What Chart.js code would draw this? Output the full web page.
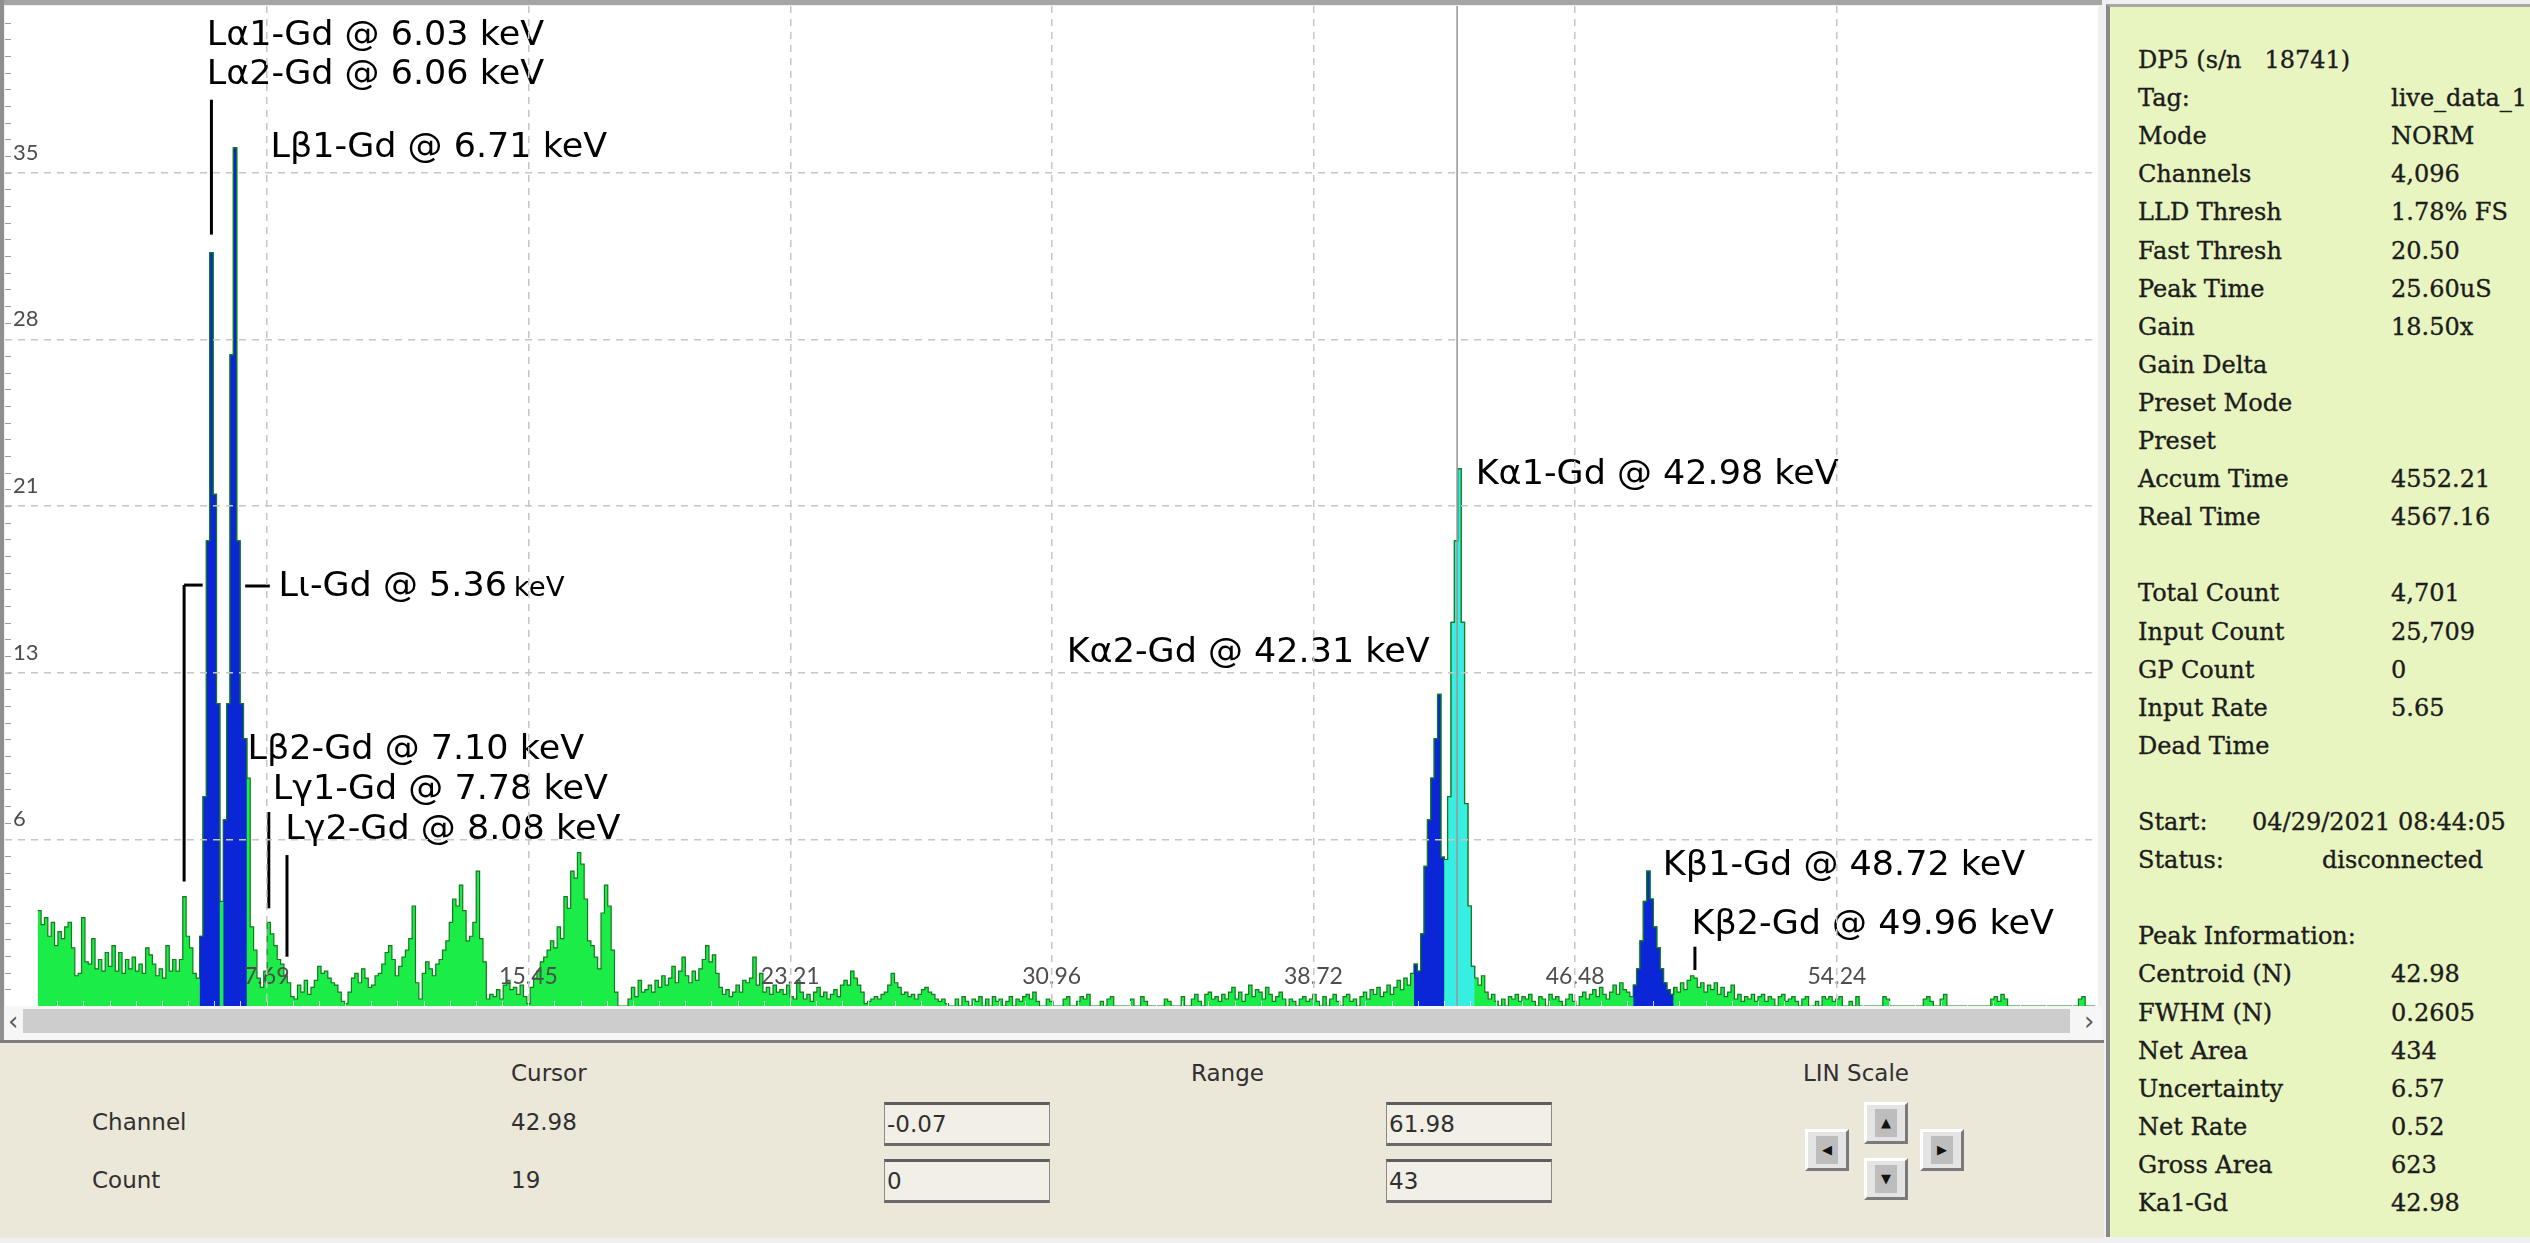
<!DOCTYPE html>
<html lang="en">
  <head>
    <meta charset="UTF-8" />
    <title>DP5 spectrum - Gd</title>
    <script src="https://cdn.jsdelivr.net/npm/chart.js@4.4.1/dist/chart.umd.min.js"></script>
    <style>
      body {
        margin: 0;
        width: 2530px;
        height: 1243px;
        background: #f0f0f0;
        position: relative;
        overflow: hidden;
        font-family: "DejaVu Sans", sans-serif;
      }
      #plotTop {
        position: absolute;
        left: 0;
        top: 0;
        width: 2102px;
        height: 5px;
        background: #a5a5a5;
      }
      #plotLeft {
        position: absolute;
        left: 0;
        top: 0;
        width: 4px;
        height: 1040px;
        background: #8f8f8f;
      }
      #plotBox {
        position: absolute;
        left: 5px;
        top: 6px;
        width: 2093px;
        height: 1000px;
        background: #fff;
      }
      #scrollStrip {
        position: absolute;
        left: 4px;
        top: 1006px;
        width: 2098px;
        height: 34px;
        background: #f6f6f6;
      }
      #scrollThumb {
        position: absolute;
        left: 19px;
        top: 3px;
        width: 2047px;
        height: 24px;
        background: #cdcdcd;
      }
      .arrow {
        position: absolute;
        top: 0;
        font-size: 26px;
        color: #5a5a5a;
      }
      #controls {
        position: absolute;
        left: 0;
        top: 1040px;
        width: 2104px;
        height: 198px;
        background: #ebe8da;
        border-top: 3px solid #7e7e7e;
        box-sizing: border-box;
        color: #303030;
        font-size: 23px;
      }
      #controls .lbl {
        position: absolute;
        line-height: 30px;
        white-space: nowrap;
      }
      #controls .box {
        position: absolute;
        width: 166px;
        height: 44px;
        box-sizing: border-box;
        background: #f1efe6;
        border: 1px solid #8a8a8a;
        border-top: 3px solid #5e5e5e;
        border-bottom: 3px solid #6a6a6a;
        line-height: 38px;
        padding-left: 2px;
      }
      #controls .btn {
        position: absolute;
        width: 44px;
        height: 42px;
        box-sizing: border-box;
        background: #e4e4e4;
        border: 3px solid;
        border-color: #ffffff #7a7a7a #7a7a7a #ffffff;
        text-align: center;
        font-size: 13px;
        line-height: 36px;
        color: #111;
      }
      #controls .btn span {
        display: inline-block;
        background: #bdbdbd;
        width: 22px;
        line-height: 28px;
        margin-top: 4px;
      }
      #info {
        position: absolute;
        left: 2106px;
        top: 4px;
        width: 424px;
        height: 1233px;
        background: #e9f5c1;
        border-left: 4px solid #8a8a8a;
        border-top: 3px solid #a8a8a8;
        box-sizing: border-box;
        font-family: "DejaVu Serif", serif;
        font-size: 24px;
        color: #1c1c1c;
        -webkit-text-stroke: 0.35px #1c1c1c;
      }
      #info .row {
        position: absolute;
        left: 0;
        width: 420px;
        height: 38px;
        line-height: 38px;
        white-space: nowrap;
      }
      #info .row span {
        position: absolute;
      }
    </style>
  </head>
  <body>
    <div id="plotTop"></div>
    <div id="plotLeft"></div>
    <div id="plotBox">
      <canvas id="spectrum" width="2093" height="1000"></canvas>
    </div>
    <div id="scrollStrip">
      <span class="arrow" style="left: 4px">&lsaquo;</span>
      <div id="scrollThumb"></div>
      <span class="arrow" style="left: 2080px">&rsaquo;</span>
    </div>

    <div id="controls">
      <div class="lbl" style="left: 511px; top: 15px">Cursor</div>
      <div class="lbl" style="left: 1191px; top: 15px">Range</div>
      <div class="lbl" style="left: 1803px; top: 15px">LIN Scale</div>
      <div class="lbl" style="left: 92px; top: 64px">Channel</div>
      <div class="lbl" style="left: 511px; top: 64px">42.98</div>
      <div class="lbl" style="left: 92px; top: 122px">Count</div>
      <div class="lbl" style="left: 511px; top: 122px">19</div>
      <div class="box" style="left: 884px; top: 59px">-0.07</div>
      <div class="box" style="left: 1386px; top: 59px">61.98</div>
      <div class="box" style="left: 884px; top: 116px">0</div>
      <div class="box" style="left: 1386px; top: 116px">43</div>
      <div class="btn" style="left: 1864px; top: 59px"><span>&#9650;</span></div>
      <div class="btn" style="left: 1805px; top: 86px"><span>&#9664;</span></div>
      <div class="btn" style="left: 1920px; top: 86px"><span>&#9654;</span></div>
      <div class="btn" style="left: 1864px; top: 115px"><span>&#9660;</span></div>
    </div>

    <div id="info"></div>

    <script>
      // spectrum: counts per 0.1 keV bin, one row per keV (0.0 .. 61.9)
      const energyStep = 0.1;
      const counts = [
        null, null, null, null, null, null, null, null, null, 4.1,
        3.5, 3.8, 3.0, 3.6, 2.6, 3.2, 2.9, 3.4, 3.6, 2.5,
        1.3, 1.4, 3.8, 1.9, 1.8, 2.9, 1.6, 2.0, 1.5, 2.3,
        1.7, 2.6, 1.5, 2.3, 1.4, 2.0, 1.6, 2.1, 1.5, 1.8,
        1.4, 2.5, 2.2, 1.8, 1.3, 1.6, 1.2, 2.6, 1.5, 2.0,
        1.5, 2.0, 4.7, 3.0, 2.5, 1.4, 1.2, 3.0, 9.0, 20.0,
        32.4, 22.0, 13.0, 4.5, 8.0, 13.0, 28.0, 36.9, 20.0, 13.0,
        11.5, 9.8, 3.4, 2.4, 1.2, 0.8, 1.5, 3.6, 3.1, 2.6,
        2.0, 1.8, 1.3, 1.0, 0.4, 0.3, 0.9, 0.6, 1.1, 0.5,
        0.8, 1.1, 1.7, 1.4, 1.5, 1.2, 1.0, 0.9, 0.6, 0.2,
        0.1, 0.6, 1.2, 1.4, 1.0, 1.6, 1.2, 0.8, 0.9, 1.3,
        1.4, 1.8, 2.3, 2.6, 2.0, 1.3, 1.7, 2.1, 2.4, 2.9,
        4.3, 1.0, 0.3, 1.4, 1.9, 1.6, 1.3, 1.8, 2.0, 2.4,
        2.8, 3.6, 4.6, 4.3, 5.2, 4.1, 2.8, 3.0, 3.6, 5.8,
        2.9, 1.9, 0.3, 0.5, 0.4, 0.7, 0.3, 0.9, 1.1, 0.7,
        0.8, 0.5, 0.9, 0.4, 0.1, 0.8, 1.2, 1.5, 1.9, 2.1,
        2.4, 2.8, 2.5, 3.4, 2.9, 4.7, 4.2, 5.8, 5.5, 6.6,
        6.1, 4.6, 2.8, 2.6, 2.1, 1.6, 4.0, 5.2, 4.3, 2.4,
        0.6, 0, 0, 0, 0.3, 0.8, 0.4, 1.1, 0.6, 0.7,
        0.9, 0.6, 1.1, 0.8, 1.3, 0.9, 1.2, 1.7, 1.0, 1.5,
        2.1, 1.3, 1.0, 1.5, 1.1, 1.6, 2.0, 2.6, 1.9, 2.2,
        1.4, 0.8, 0.5, 0.7, 0.4, 0.6, 0.9, 0.6, 1.1, 1.0,
        1.2, 2.1, 0.9, 1.4, 0.6, 0.8, 0.5, 0.9, 0.6, 0.7,
        0.5, 0.9, 0.4, 0.3, 1.1, 0.6, 0.3, 0.5, 0.2, 0.6,
        0.8, 0.4, 0.6, 0.3, 0.5, 0.7, 0.4, 0.9, 1.1, 0.9,
        1.5, 1.2, 0.9, 0.6, 0.1, 0.2, 0.3, 0.4, 0.3, 0.5,
        0.6, 0.9, 1.4, 1.0, 0.8, 0.5, 0.6, 0.4, 0.5, 0.3,
        0.5, 0.7, 0.8, 0.6, 0.5, 0.3, 0.2, 0.3, 0.1, 0,
        0, 0.3, 0, 0.4, 0.2, 0, 0.3, 0.2, 0.4, 0,
        0.3, 0, 0.4, 0.2, 0.3, 0, 0.2, 0.4, 0, 0.3,
        0.2, 0.4, 0.5, 0.3, 0.6, 0.2, 0, 0, 0.3, 0.2,
        0, 0, 0, 0.3, 0.4, 0, 0, 0.2, 0.4, 0.3,
        0.5, 0, 0, 0, 0.2, 0, 0.3, 0.4, 0, 0,
        0, 0, 0, 0.3, 0, 0, 0.4, 0.2, 0, 0,
        0, 0, 0, 0.3, 0.2, 0, 0, 0, 0.4, 0,
        0, 0.3, 0.5, 0.2, 0, 0.5, 0.6, 0.3, 0.4, 0.2,
        0.5, 0.3, 0.6, 0.8, 0.3, 0.6, 0.2, 0.5, 0.9, 0.4,
        0.7, 0.6, 0.3, 0.8, 0.5, 0.2, 0.4, 0.6, 0.3, 0,
        0.3, 0.2, 0, 0.3, 0.4, 0.2, 0.3, 0.5, 0.2, 0,
        0.4, 0, 0.3, 0.5, 0.2, 0, 0.4, 0.5, 0.2, 0.3,
        0, 0.4, 0.6, 0.3, 0.7, 0.5, 0.8, 0.4, 0.6, 0.9,
        0.5, 0.8, 1.1, 0.7, 1.2, 0.9, 1.4, 1.8, 1.5, 3.1,
        6.0, 8.0, 9.8, 11.5, 13.4, 6.4, 6.3, 9.0, 16.5, 20.0,
        23.1, 16.5, 8.7, 4.3, 1.7, 1.2, 0.9, 1.3, 0.6, 0.3,
        0.5, 0.2, 0, 0.3, 0, 0.4, 0.3, 0.5, 0.2, 0.4,
        0.3, 0.5, 0.2, 0, 0.4, 0.3, 0, 0.5, 0.3, 0.4,
        0.2, 0, 0.3, 0.5, 0.2, 0, 0.4, 0.6, 0.3, 0.5,
        0.7, 0.4, 0.8, 0.5, 0.3, 0.6, 0.9, 0.5, 1.0, 0.7,
        0.6, 0.4, 0.9, 1.6, 2.8, 4.5, 5.8, 4.6, 3.4, 2.5,
        1.6, 1.0, 0.7, 0.5, 0.8, 0.6, 1.0, 0.7, 1.1, 1.3,
        1.2, 0.8, 1.0, 0.6, 0.9, 0.7, 1.0, 0.5, 0.8, 0.4,
        0.6, 0.9, 0.3, 0.5, 0.2, 0.4, 0.3, 0.5, 0.2, 0.4,
        0.5, 0.2, 0.4, 0.3, 0, 0.4, 0.5, 0.2, 0.3, 0.4,
        0.2, 0, 0.3, 0.4, 0, 0, 0.2, 0, 0.4, 0.3,
        0.4, 0.2, 0.3, 0.4, 0, 0, 0.2, 0, 0.4, 0,
        0, 0, 0, 0, 0, 0, 0.4, 0.3, 0, 0,
        0, 0, 0, 0, 0, 0, 0, 0, 0.3, 0.4,
        0.2, 0, 0, 0.3, 0.5, 0, 0, 0, 0, 0,
        0, 0, 0, 0, 0, 0, 0, 0, 0.3, 0.4,
        0.2, 0.5, 0.3, 0, 0, 0, 0, 0, 0, 0,
        0, 0, 0, 0, 0, 0, 0, 0, 0, 0,
        0, 0, 0, 0, 0.3, 0.4, 0, 0, 0, 0,
      ];

      // display range (from the Range boxes)
      const rangeMin = -0.07;
      const rangeMax = 61.98;
      const countMax = 43;

      const xTickLabels = ["7.69", "15.45", "23.21", "30.96", "38.72", "46.48", "54.24"];
      const yGridValues = [7.17, 14.33, 21.5, 28.67, 35.83];
      const yTickLabels = ["6", "13", "21", "28", "35"];

      // regions of interest [from keV, to keV]
      const blueRois = [
        [5.7, 6.3],
        [6.4, 7.1],
        [41.7, 42.6],
        [48.2, 49.4],
      ];
      const cyanRois = [[42.6, 43.5]];
      const cursorKeV = 42.98;

      // peak labels: text, keV, count, align, small suffix
      const peakLabels = [
        ["Lα1-Gd @ 6.03 keV", 5.91, 41.7],
        ["Lα2-Gd @ 6.06 keV", 5.91, 40.0],
        ["Lβ1-Gd @ 6.71 keV", 7.8, 36.86],
        ["Lι-Gd @ 5.36", 8.04, 18.0, "left", "keV"],
        ["Lβ2-Gd @ 7.10 keV", 7.12, 11.0],
        ["Lγ1-Gd @ 7.78 keV", 7.87, 9.29],
        ["Lγ2-Gd @ 8.08 keV", 8.24, 7.57],
        ["Kα1-Gd @ 42.98 keV", 43.53, 22.8],
        ["Kα2-Gd @ 42.31 keV", 42.17, 15.18, "right"],
        ["Kβ1-Gd @ 48.72 keV", 49.08, 5.99],
        ["Kβ2-Gd @ 49.96 keV", 49.93, 3.48],
      ];
      // marker strokes [keV1, count1, keV2, count2]
      const markerSegments = [
        [6.05, 33.17, 6.05, 38.97],
        [5.24, 5.35, 5.24, 18.1],
        [5.24, 18.1, 5.79, 18.1],
        [7.05, 18.06, 7.78, 18.06],
        [7.75, 4.2, 7.75, 8.34],
        [8.29, 2.12, 8.29, 6.49],
        [50.03, 1.55, 50.03, 2.55],
      ];

      const infoRows = [
        ["DP5 (s/n\u00a0\u00a0 18741)", ""],
        ["Tag:", "live_data_1"],
        ["Mode", "NORM"],
        ["Channels", "4,096"],
        ["LLD Thresh", "1.78% FS"],
        ["Fast Thresh", "20.50"],
        ["Peak Time", "25.60uS"],
        ["Gain", "18.50x"],
        ["Gain Delta", ""],
        ["Preset Mode", ""],
        ["Preset", ""],
        ["Accum Time", "4552.21"],
        ["Real Time", "4567.16"],
        ["", ""],
        ["Total Count", "4,701"],
        ["Input Count", "25,709"],
        ["GP Count", "0"],
        ["Input Rate", "5.65"],
        ["Dead Time", ""],
        ["", ""],
        ["Start:", "04/29/2021 08:44:05", 142],
        ["Status:", "disconnected", 212],
        ["", ""],
        ["Peak Information:", ""],
        ["Centroid (N)", "42.98"],
        ["FWHM (N)", "0.2605"],
        ["Net Area", "434"],
        ["Uncertainty", "6.57"],
        ["Net Rate", "0.52"],
        ["Gross Area", "623"],
        ["Ka1-Gd", "42.98"],
      ];

      // right info panel
      const info = document.getElementById("info");
      infoRows.forEach(([label, value, valueLeft], i) => {
        const row = document.createElement("div");
        row.className = "row";
        row.style.top = 34 + i * 38.1 + "px";
        row.innerHTML =
          '<span style="left:28px">' + label + "</span>" +
          '<span style="left:' + (valueLeft || 281) + 'px">' + value + "</span>";
        info.appendChild(row);
      });

      const spectrumPoints = counts.map((c, i) => ({ x: +(i * energyStep).toFixed(1), y: c }));
      const roiPoints = ([from, to]) =>
        spectrumPoints.filter((p) => p.x > from - 0.001 && p.x < to + 0.001);

      const traceColor = "#137a1d";
      const roiSets = [
        ...blueRois.map((r) => ({ data: roiPoints(r), backgroundColor: "#0b26d6" })),
        ...cyanRois.map((r) => ({ data: roiPoints(r), backgroundColor: "#36eee2" })),
      ].map((s) => ({
        ...s,
        fill: "origin",
        stepped: true,
        borderColor: traceColor,
        borderWidth: 1.2,
        pointRadius: 0,
        order: 1,
      }));

      // tick labels sit inside the plot, so they are drawn here
      const axisLabels = {
        id: "axisLabels",
        beforeDatasetsDraw(chart) {
          const { ctx, chartArea: area, scales } = chart;
          ctx.save();
          ctx.font = '22px "Lato"';
          ctx.fillStyle = "#4d4d4d";
          ctx.textAlign = "left";
          ctx.textBaseline = "middle";
          yGridValues.forEach((v, i) => {
            ctx.fillText(yTickLabels[i], area.left + 8, scales.y.getPixelForValue(v) - 20);
          });
          ctx.restore();
        },
      };

      const overlay = {
        id: "overlay",
        afterDatasetsDraw(chart) {
          const { ctx, chartArea: area, scales } = chart;
          const x = scales.x;
          const y = scales.y;
          ctx.save();

          // small ticks along the left edge and the baseline
          ctx.lineWidth = 1;
          ctx.strokeStyle = "#9c9c9c";
          for (let k = 1; k < 60; k++) {
            const py = Math.round(y.getPixelForValue((countMax * k) / 60)) + 0.5;
            ctx.beginPath();
            ctx.moveTo(area.left, py);
            ctx.lineTo(area.left + 6, py);
            ctx.stroke();
          }
          ctx.strokeStyle = "rgba(255,255,255,0.8)";
          for (let k = 1; k < 80; k++) {
            const px = Math.round(x.getPixelForValue(rangeMin + ((rangeMax - rangeMin) * k) / 80)) + 0.5;
            ctx.beginPath();
            ctx.moveTo(px, area.bottom);
            ctx.lineTo(px, area.bottom - 5);
            ctx.stroke();
          }

          // cursor
          const cx = x.getPixelForValue(cursorKeV);
          ctx.strokeStyle = "#9a9a9a";
          ctx.lineWidth = 1.6;
          ctx.beginPath();
          ctx.moveTo(cx, area.top);
          ctx.lineTo(cx, area.bottom);
          ctx.stroke();

          // x tick labels inside the plot
          ctx.font = '23px "Lato"';
          ctx.fillStyle = "#4d4d4d";
          ctx.textAlign = "center";
          ctx.textBaseline = "middle";
          xTickLabels.forEach((t) => {
            ctx.fillText(t, x.getPixelForValue(parseFloat(t)), area.bottom - 29);
          });

          // peak markers
          ctx.strokeStyle = "#000";
          ctx.lineWidth = 3;
          markerSegments.forEach(([e1, c1, e2, c2]) => {
            ctx.beginPath();
            ctx.moveTo(x.getPixelForValue(e1), y.getPixelForValue(c1));
            ctx.lineTo(x.getPixelForValue(e2), y.getPixelForValue(c2));
            ctx.stroke();
          });

          // peak labels (the original face is a little wider than DejaVu)
          const stretch = 1.06;
          ctx.fillStyle = "#000";
          peakLabels.forEach(([text, e, c, align, suffix]) => {
            const px = x.getPixelForValue(e);
            const py = y.getPixelForValue(c);
            ctx.save();
            ctx.translate(px, py);
            ctx.scale(stretch, 1);
            ctx.font = '33px "DejaVu Sans"';
            ctx.textAlign = align || "left";
            ctx.fillText(text, 0, 0);
            if (suffix) {
              const w = ctx.measureText(text + " ").width;
              ctx.font = '26px "DejaVu Sans"';
              ctx.textAlign = "left";
              ctx.fillText(suffix, w - 4, 2);
            }
            ctx.restore();
          });
          ctx.restore();
        },
      };

      const gridStyle = { color: "#c6c6c6", lineWidth: 1.5, drawTicks: false, z: 1 };
      const borderStyle = { display: false, dash: [7, 6] };

      new Chart(document.getElementById("spectrum"), {
        type: "line",
        data: {
          datasets: [
            {
              data: spectrumPoints,
              fill: "origin",
              stepped: true,
              backgroundColor: "#1bec47",
              borderColor: traceColor,
              borderWidth: 1.2,
              pointRadius: 0,
              order: 2,
            },
            ...roiSets,
          ],
        },
        options: {
          responsive: false,
          animation: false,
          devicePixelRatio: 1,
          layout: { padding: 0 },
          plugins: {
            legend: { display: false },
            tooltip: { enabled: false },
          },
          scales: {
            x: {
              type: "linear",
              min: rangeMin,
              max: rangeMax,
              afterBuildTicks: (axis) => {
                axis.ticks = xTickLabels.map((t) => ({ value: parseFloat(t) }));
              },
              afterFit: (axis) => {
                axis.height = 0;
              },
              ticks: { display: false },
              grid: gridStyle,
              border: borderStyle,
            },
            y: {
              min: 0,
              max: countMax,
              afterBuildTicks: (axis) => {
                axis.ticks = yGridValues.map((v) => ({ value: v }));
              },
              afterFit: (axis) => {
                axis.width = 0;
              },
              ticks: { display: false },
              grid: gridStyle,
              border: borderStyle,
            },
          },
        },
        plugins: [axisLabels, overlay],
      });
    </script>
  </body>
</html>
